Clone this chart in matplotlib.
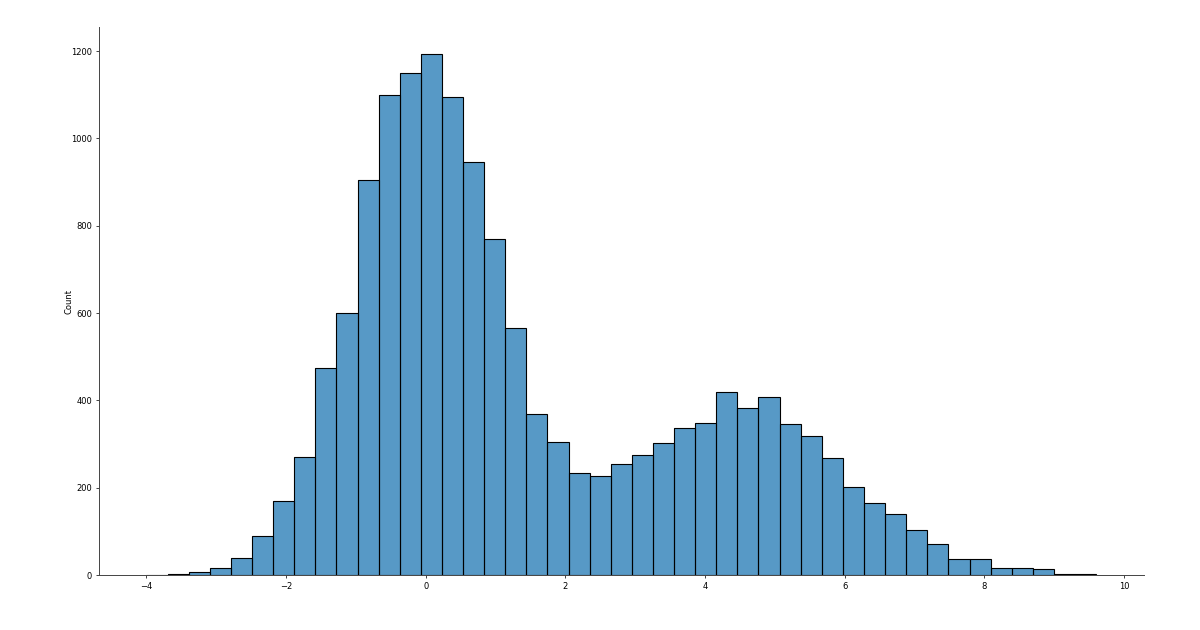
import numpy as np
import matplotlib
matplotlib.use("Agg")
import matplotlib.pyplot as plt

# Histogram data
bin_start = -4.0
bin_end = 9.6
counts = [1, 3, 7, 16, 40, 90, 170, 271, 474, 601, 904, 1100, 1151, 1194,
          1095, 945, 770, 567, 369, 305, 235, 228, 254, 276, 303, 337, 349,
          420, 382, 407, 346, 318, 269, 201, 166, 141, 104, 71, 36, 36, 17,
          17, 14, 2, 3]
y_label = "Count"

edges = np.linspace(bin_start, bin_end, len(counts) + 1)
centers = (edges[:-1] + edges[1:]) / 2

fig = plt.figure(figsize=(12, 6.3), dpi=100)
ax = fig.add_axes([0.0825, 0.087, 0.8705, 0.870])
ax.hist(centers, bins=edges, weights=counts, color="#1f77b4", alpha=0.75,
        edgecolor="none", linewidth=0)
ax.hist(centers, bins=edges, weights=counts, histtype="bar", facecolor="none",
        edgecolor="black", linewidth=0.8)

ax.spines["top"].set_visible(False)
ax.spines["right"].set_visible(False)
for s in ("left", "bottom"):
    ax.spines[s].set_linewidth(0.7)
    ax.spines[s].set_color("#444444")
ax.tick_params(labelsize=6, length=2.5, width=0.6, pad=2.5, colors="#222222",
               labelcolor="black")
ax.set_ylabel(y_label, fontsize=6, labelpad=-2)
ax.set_xticks([-4, -2, 0, 2, 4, 6, 8, 10])
ax.set_yticks([0, 200, 400, 600, 800, 1000, 1200])
ax.margins(x=0.05)
ax.set_ylim(0, 1255)

fig.savefig("out.png", dpi=100)
